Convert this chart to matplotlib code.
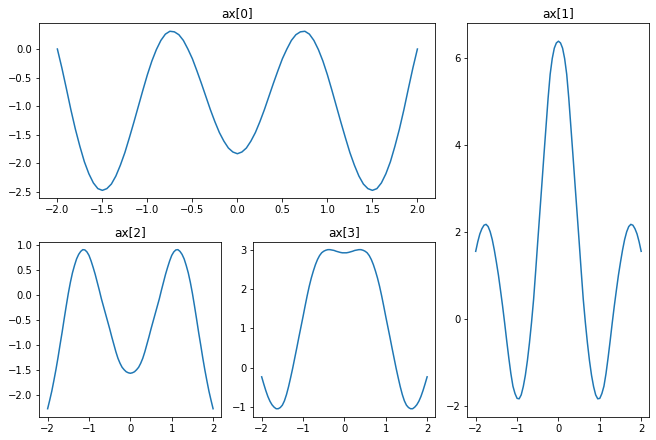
import numpy as np
import matplotlib
matplotlib.use("Agg")
import matplotlib.pyplot as plt

# sample positions along x, step 0.05
x_vals = np.linspace(-2, 2, 81)

# values, x = -2.00 .. 2.00
ax0_vals = [0.00, -0.33, -0.69, -1.06, -1.40, -1.70, -1.97, -2.18, -2.34, -2.44,
            -2.47, -2.44, -2.36, -2.22, -2.03, -1.81, -1.55, -1.28, -1.00, -0.72,
            -0.45, -0.21, -0.01, 0.15, 0.26, 0.31, 0.30, 0.25, 0.15, 0.00,
            -0.17, -0.38, -0.60, -0.83, -1.06, -1.27, -1.46, -1.61, -1.73, -1.80,
            -1.83,
            -1.80, -1.73, -1.61, -1.46, -1.27, -1.06, -0.83, -0.60, -0.38, -0.17,
            0.00, 0.15, 0.25, 0.30, 0.31, 0.26, 0.15, -0.01, -0.21, -0.45,
            -0.72, -1.00, -1.28, -1.55, -1.81, -2.03, -2.22, -2.36, -2.44, -2.47,
            -2.44, -2.34, -2.18, -1.97, -1.70, -1.40, -1.06, -0.69, -0.33, 0.00]

ax1_vals = [1.55, 1.77, 1.95, 2.07, 2.15, 2.17, 2.12, 2.00, 1.82, 1.58,
            1.30, 1.00, 0.65, 0.29, -0.10, -0.51, -0.90, -1.26, -1.55, -1.72,
            -1.83, -1.84, -1.75, -1.56, -1.30, -0.96, -0.55, -0.08, 0.45, 1.10,
            1.78, 2.44, 3.10, 3.77, 4.42, 5.07, 5.62, 5.98, 6.22, 6.34,
            6.38,
            6.34, 6.22, 5.98, 5.62, 5.07, 4.42, 3.77, 3.10, 2.44, 1.78,
            1.10, 0.45, -0.08, -0.55, -0.96, -1.30, -1.56, -1.75, -1.84, -1.83,
            -1.72, -1.55, -1.26, -0.90, -0.51, -0.10, 0.29, 0.65, 1.00, 1.30,
            1.58, 1.82, 2.00, 2.12, 2.17, 2.15, 2.07, 1.95, 1.77, 1.55]

ax2_vals = [-2.28, -2.11, -1.93, -1.72, -1.50, -1.26, -1.00, -0.75, -0.48, -0.22,
            0.03, 0.25, 0.44, 0.59, 0.72, 0.81, 0.87, 0.905, 0.90, 0.86,
            0.79, 0.68, 0.55, 0.41, 0.25, 0.09, -0.08, -0.23, -0.38, -0.53,
            -0.68, -0.84, -0.99, -1.14, -1.27, -1.37, -1.45, -1.50, -1.54, -1.56,
            -1.57,
            -1.56, -1.54, -1.50, -1.45, -1.37, -1.27, -1.14, -0.99, -0.84, -0.68,
            -0.53, -0.38, -0.23, -0.08, 0.09, 0.25, 0.41, 0.55, 0.68, 0.79,
            0.86, 0.90, 0.905, 0.87, 0.81, 0.72, 0.59, 0.44, 0.25, 0.03,
            -0.22, -0.48, -0.75, -1.00, -1.26, -1.50, -1.72, -1.93, -2.11, -2.28]

ax3_vals = [-0.23, -0.41, -0.58, -0.73, -0.85, -0.94, -1.00, -1.04, -1.04, -1.01,
            -0.95, -0.84, -0.68, -0.48, -0.25, -0.01, 0.25, 0.51, 0.78, 1.04,
            1.30, 1.57, 1.83, 2.07, 2.28, 2.46, 2.62, 2.75, 2.85, 2.92,
            2.96, 2.985, 3.00, 3.00, 2.99, 2.98, 2.96, 2.945, 2.93, 2.92,
            2.92,
            2.92, 2.93, 2.945, 2.96, 2.98, 2.99, 3.00, 3.00, 2.985, 2.96,
            2.92, 2.85, 2.75, 2.62, 2.46, 2.28, 2.07, 1.83, 1.57, 1.30,
            1.04, 0.78, 0.51, 0.25, -0.01, -0.25, -0.48, -0.68, -0.84, -0.95,
            -1.01, -1.04, -1.04, -1.00, -0.94, -0.85, -0.73, -0.58, -0.41, -0.23]

titles = ['ax[0]', 'ax[1]', 'ax[2]', 'ax[3]']

fig, axd = plt.subplot_mosaic([['a0', 'a0', 'a1'],
                               ['a2', 'a3', 'a1']],
                              figsize=(656 / 72, 440 / 72), dpi=72)
fig.subplots_adjust(left=0.06, right=0.99, bottom=0.053, top=0.947,
                    wspace=0.176, hspace=0.248)

axd['a0'].plot(x_vals, ax0_vals)
axd['a1'].plot(x_vals, ax1_vals)
axd['a2'].plot(x_vals, ax2_vals)
axd['a3'].plot(x_vals, ax3_vals)

for key, title in zip(['a0', 'a1', 'a2', 'a3'], titles):
    axd[key].set_title(title)

fig.savefig('out.png', dpi=72)
